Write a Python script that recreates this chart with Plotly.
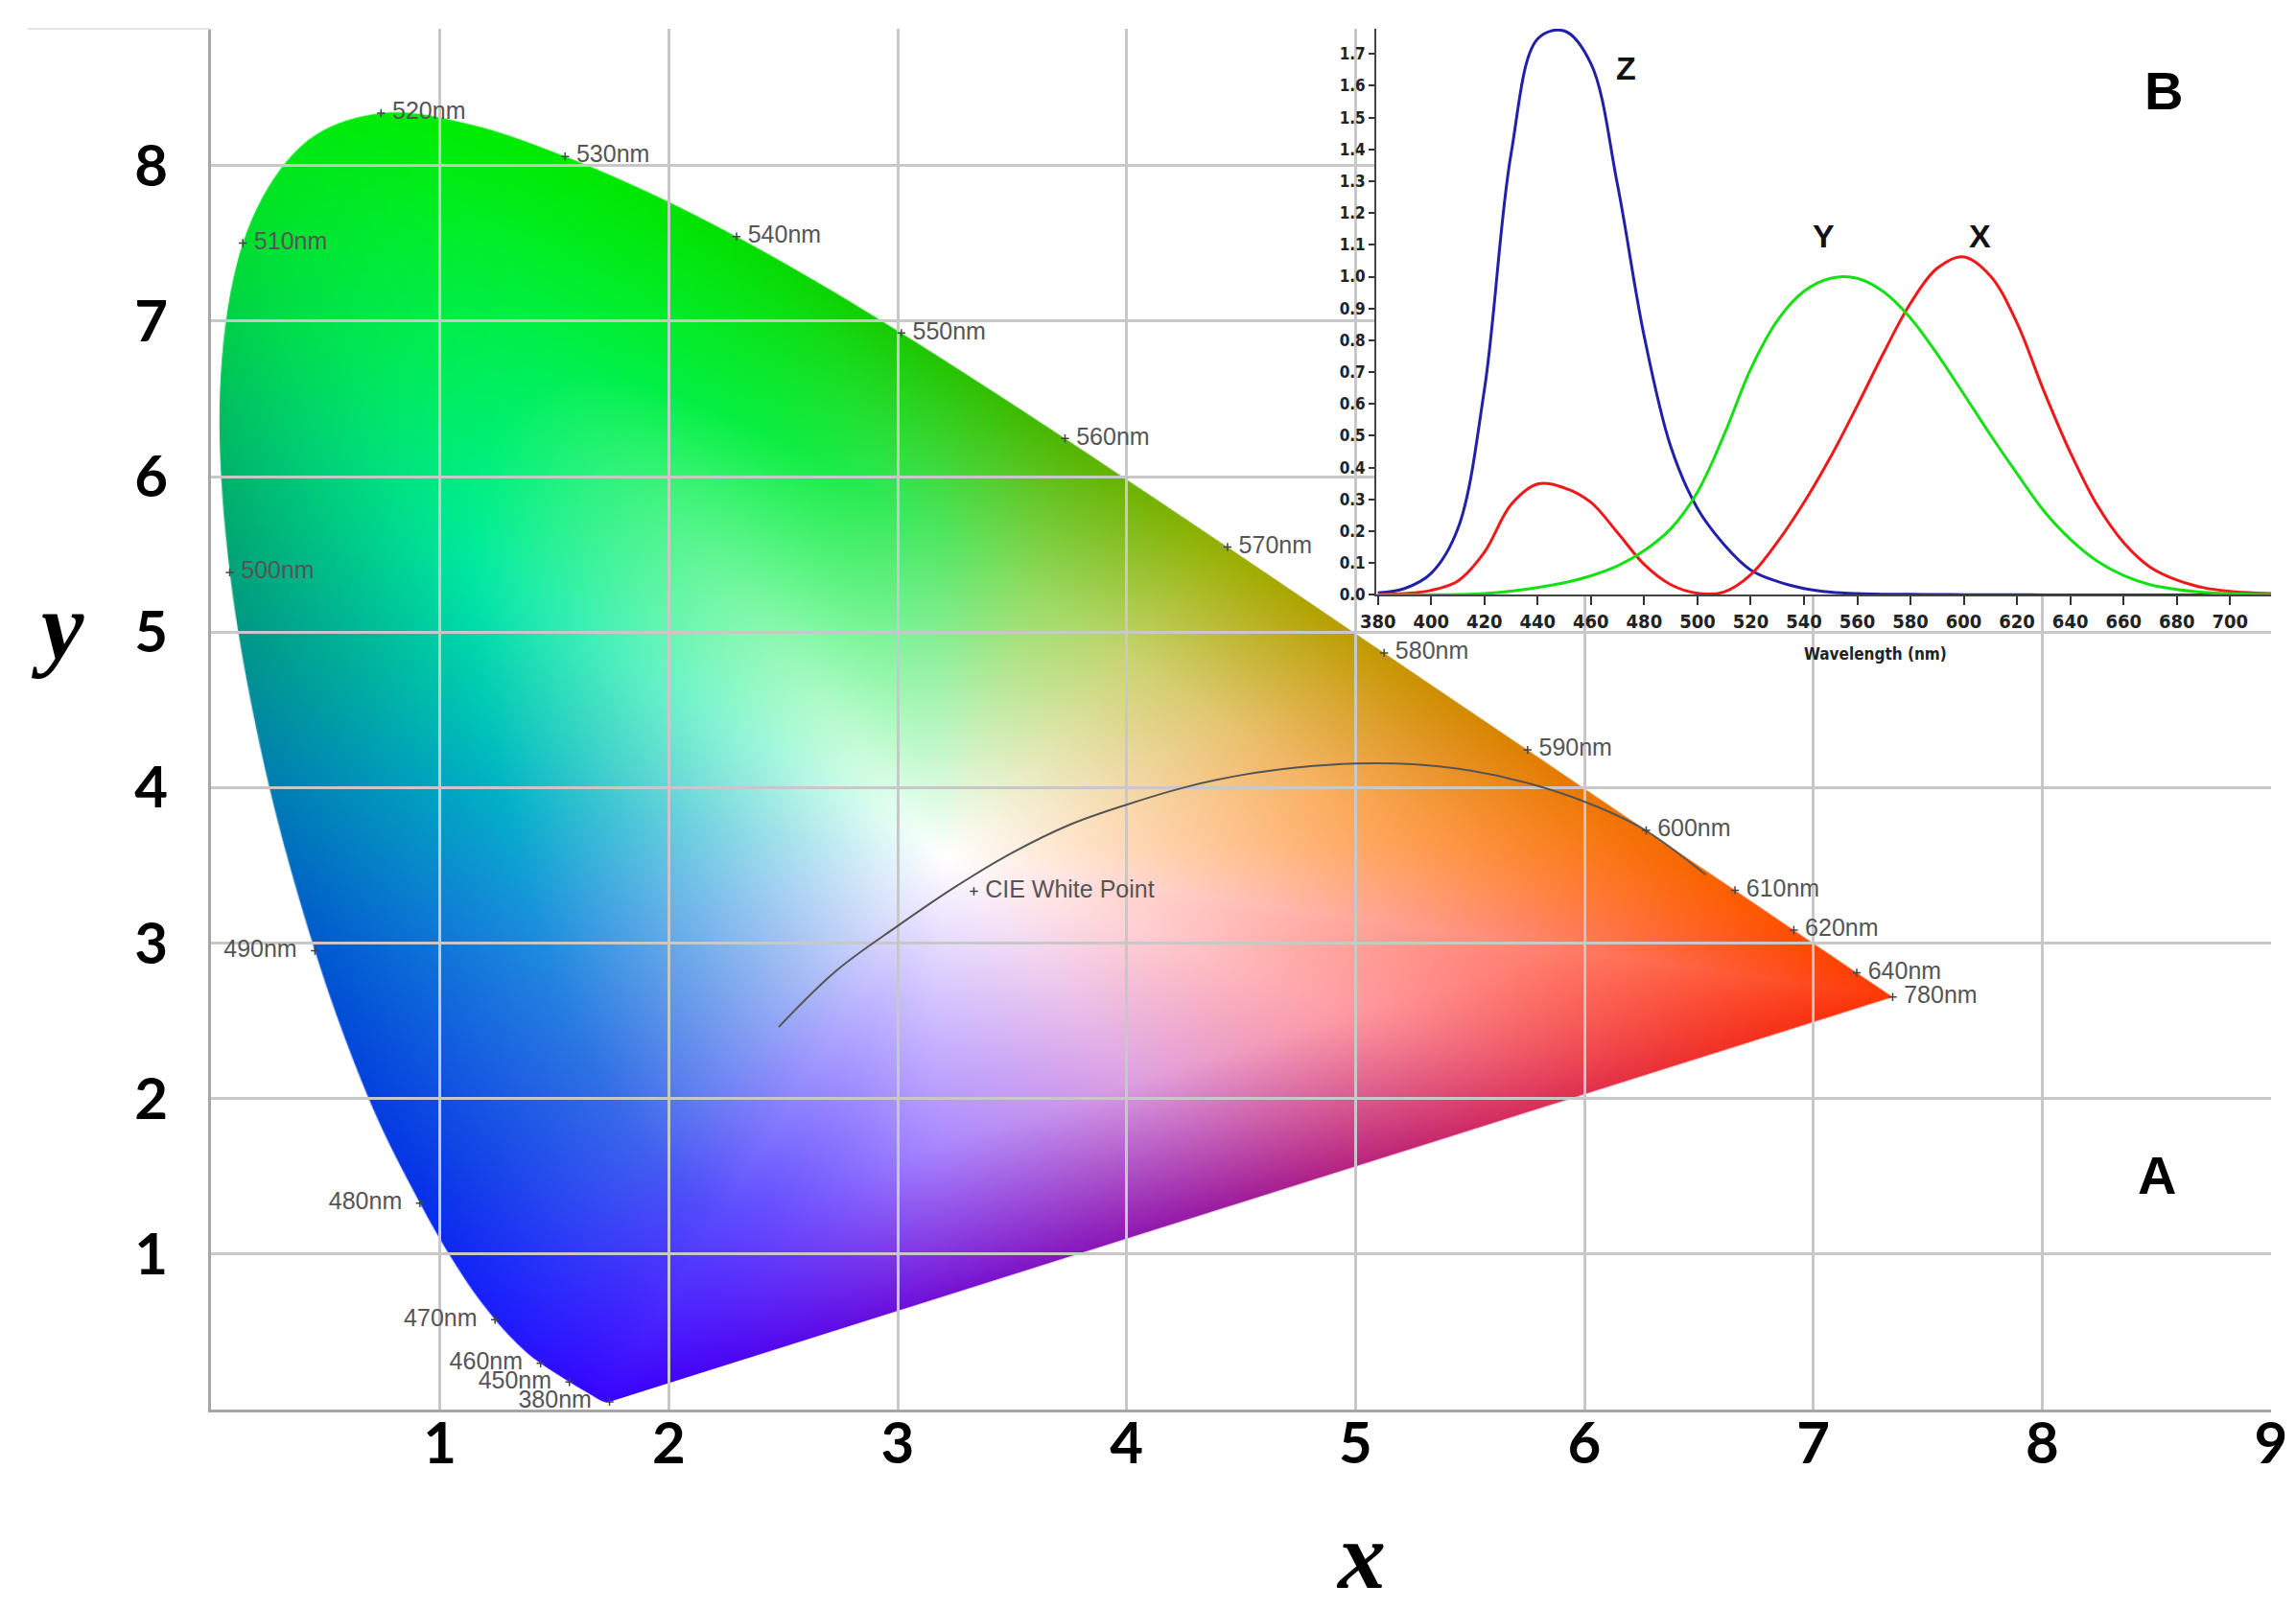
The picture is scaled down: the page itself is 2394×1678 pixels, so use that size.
import base64
import struct
import zlib

import numpy as np
import plotly.graph_objects as go

# ---- chromaticity diagram (A), axis units = 10 x CIE xy ----
locus_nm = [380, 400, 420, 430, 440, 450, 460, 465, 470, 475, 480, 485, 490, 495,
            500, 505, 510, 515, 520, 525, 530, 535, 540, 545, 550, 555, 560, 565,
            570, 575, 580, 585, 590, 595, 600, 605, 610, 620, 630, 640, 660, 780]
locus_x = [1.741, 1.733, 1.714, 1.689, 1.644, 1.566, 1.440, 1.355, 1.241, 1.096, 0.913,
           0.687, 0.454, 0.235, 0.082, 0.039, 0.139, 0.389, 0.743, 1.142, 1.547, 1.929,
           2.296, 2.658, 3.016, 3.373, 3.731, 4.087, 4.441, 4.788, 5.125, 5.448, 5.752,
           6.029, 6.270, 6.482, 6.658, 6.915, 7.079, 7.190, 7.300, 7.347]
locus_y = [0.050, 0.048, 0.051, 0.069, 0.109, 0.177, 0.297, 0.399, 0.578, 0.868, 1.327,
           2.007, 2.950, 4.127, 5.384, 6.548, 7.502, 8.120, 8.338, 8.262, 8.059, 7.816,
           7.543, 7.243, 6.923, 6.589, 6.245, 5.896, 5.547, 5.202, 4.866, 4.544, 4.242,
           3.965, 3.725, 3.514, 3.340, 3.083, 2.920, 2.809, 2.700, 2.653]

labels_right = [520, 530, 540, 550, 560, 570, 580, 590, 600, 610, 620, 640, 780, 510, 500]
labels_left = [490, 480, 470, 460, 450, 380]

white_x = 3.333
white_y = 3.333

planck_x = [2.48, 2.73, 3.00, 3.25, 3.50, 3.75, 4.00, 4.25, 4.50, 4.75, 5.00, 5.25,
            5.50, 5.75, 6.00, 6.25, 6.53]
planck_y = [2.46, 2.82, 3.11, 3.36, 3.58, 3.76, 3.89, 4.00, 4.08, 4.13, 4.155, 4.15,
            4.11, 4.03, 3.91, 3.74, 3.44]

# ---- colour matching functions (B) ----
wl = list(range(380, 730, 10))
cmf_x = [0.0014, 0.0042, 0.0143, 0.0435, 0.1344, 0.2839, 0.3483, 0.3362, 0.2908, 0.1954,
         0.0956, 0.0320, 0.0049, 0.0093, 0.0633, 0.1655, 0.2904, 0.4334, 0.5945, 0.7621,
         0.9163, 1.0263, 1.0622, 1.0026, 0.8545, 0.6424, 0.4479, 0.2835, 0.1649, 0.0874,
         0.0468, 0.0227, 0.0114, 0.0058, 0.0029]
cmf_y = [0.0000, 0.0001, 0.0004, 0.0012, 0.0040, 0.0116, 0.0230, 0.0380, 0.0600, 0.0910,
         0.1390, 0.2080, 0.3230, 0.5030, 0.7100, 0.8620, 0.9540, 0.9950, 0.9950, 0.9520,
         0.8700, 0.7570, 0.6310, 0.5030, 0.3810, 0.2650, 0.1750, 0.1070, 0.0610, 0.0320,
         0.0170, 0.0082, 0.0041, 0.0021, 0.0010]
cmf_z = [0.0065, 0.0201, 0.0679, 0.2074, 0.6456, 1.3856, 1.7471, 1.7721, 1.6692, 1.2876,
         0.8130, 0.4652, 0.2720, 0.1582, 0.0783, 0.0422, 0.0203, 0.0088, 0.0039, 0.0021,
         0.0017, 0.0011, 0.0008, 0.0003, 0.0002, 0.0, 0.0, 0.0, 0.0, 0.0,
         0.0, 0.0, 0.0, 0.0, 0.0]

# gradient look: colour at the rim and part way in, per direction
grad_centre = (3.2, 3.55)
grad_inner_t = 0.65
grad_nm = [380, 460, 470, 480, 490, 495, 500, 505, 510, 520, 530, 540, 550, 560,
           570, 580, 590, 600, 620, 780]
grad_edge = ['#3a00ff', '#2a10ff', '#1a1cff', '#0530e8', '#0058d0', '#0080b0', '#00a078',
             '#00c060', '#00e030', '#00ee00', '#00ea00', '#00e000', '#18c800', '#50b400',
             '#98b000', '#c49800', '#dc8000', '#f47000', '#ff5400', '#ff3000']
grad_inner = ['#5a48ff', '#4c50f6', '#4060f0', '#3070e4', '#1a92dc', '#00b0c8', '#00d0b0',
              '#00eca0', '#00f078', '#00f050', '#00f040', '#10ec40', '#40e860', '#90dc60',
              '#c8d470', '#e6c470', '#f8b060', '#ffa050', '#ff9060', '#ff7868']
# purple line, fraction from 780nm back to 380nm
purple_f = [0.24, 0.50, 0.76]
purple_edge = ['#e03050', '#a01c98', '#7010d8']
purple_inner = ['#ff9aa0', '#e0a0e0', '#a888ff']


def hex_rgb(h):
    return [int(h[i:i + 2], 16) for i in (1, 3, 5)]


def catmull(xs, ys, n=10):
    p = np.column_stack([xs, ys]).astype(float)
    p = np.vstack([p[0], p, p[-1]])
    out = []
    for i in range(1, len(p) - 2):
        p0, p1, p2, p3 = p[i - 1], p[i], p[i + 1], p[i + 2]
        for s in np.linspace(0, 1, n, endpoint=False):
            out.append(0.5 * (2 * p1 + (p2 - p0) * s + (2 * p0 - 5 * p1 + 4 * p2 - p3) * s * s
                              + (3 * p1 - p0 - 3 * p2 + p3) * s ** 3))
    out.append(p[-2])
    return np.array(out)


def png_uri(rgba):
    h, w, _ = rgba.shape
    raw = rgba.reshape(h, w * 4).astype(np.int16)
    sub = raw.copy()
    sub[:, 4:] = raw[:, 4:] - raw[:, :-4]
    sub = (sub % 256).astype(np.uint8)
    rows = np.hstack([np.ones((h, 1), np.uint8), sub])

    def chunk(tag, data):
        c = struct.pack('>I', len(data)) + tag + data
        return c + struct.pack('>I', zlib.crc32(tag + data) & 0xffffffff)

    png = (b'\x89PNG\r\n\x1a\n'
           + chunk(b'IHDR', struct.pack('>IIBBBBB', w, h, 8, 6, 0, 0, 0))
           + chunk(b'IDAT', zlib.compress(rows.tobytes(), 6))
           + chunk(b'IEND', b''))
    return 'data:image/png;base64,' + base64.b64encode(png).decode()


# Build the coloured horseshoe as an image
loc = {nm: (x, y) for nm, x, y in zip(locus_nm, locus_x, locus_y)}
curve = catmull(locus_x, locus_y)
poly = np.vstack([curve, curve[:1]])
cx, cy = grad_centre

ang = np.linspace(-np.pi, np.pi, 7201)
dxr, dyr = np.cos(ang)[:, None], np.sin(ang)[:, None]
wx, wy = poly[:-1, 0][None, :] - cx, poly[:-1, 1][None, :] - cy
ex, ey = np.diff(poly[:, 0])[None, :], np.diff(poly[:, 1])[None, :]
den = dxr * ey - dyr * ex
with np.errstate(divide='ignore', invalid='ignore'):
    s = (wx * ey - wy * ex) / den
    u = (wx * dyr - wy * dxr) / den
ok = (np.abs(den) > 1e-12) & (u >= -1e-9) & (u <= 1 + 1e-9) & (s > 0)
rb = np.where(ok, s, np.inf).min(axis=1)

ax_pts = [loc[nm] for nm in grad_nm]
p380, p780 = np.array(loc[380]), np.array(loc[780])
ax_pts += [tuple(p780 + f * (p380 - p780)) for f in purple_f]
edge_cols = np.array([hex_rgb(c) for c in grad_edge + purple_edge], float)
inner_cols = np.array([hex_rgb(c) for c in grad_inner + purple_inner], float)
a_ang = np.array([np.arctan2(py - cy, px - cx) for px, py in ax_pts])
order = np.argsort(a_ang)
a_ang = a_ang[order]
edge_cols = edge_cols[order]
inner_cols = inner_cols[order]


def ring(cols, sigma=0.05):
    # colour round the centre, softened so the wedges don't show
    base = ang[:-1]
    n = len(base)
    k = np.arange(n)
    d = np.minimum(k, n - k) * (2 * np.pi / n)
    kern = np.exp(-0.5 * (d / sigma) ** 2)
    kern /= kern.sum()
    fk = np.fft.fft(kern)
    out = []
    for c in range(3):
        v = np.interp(base, a_ang, cols[:, c], period=2 * np.pi)
        v = np.real(np.fft.ifft(np.fft.fft(v) * fk))
        out.append(np.append(v, v[0]))
    return np.stack(out, -1)


edge_ring = ring(edge_cols)
inner_ring = ring(inner_cols)

img_w, img_h = 1600, 1380
x_max, y_max = 7.5, 8.5
gx = (np.arange(img_w) + 0.5) * x_max / img_w
gy = y_max - (np.arange(img_h) + 0.5) * y_max / img_h
GX, GY = np.meshgrid(gx, gy)
DX, DY = GX - cx, GY - cy
phi = np.arctan2(DY, DX)
rr = np.hypot(DX, DY)
rb_pix = np.interp(phi, ang, rb)
tt = rr / rb_pix
alpha = np.clip((rb_pix - rr) / 0.006 + 0.5, 0, 1)

edge = np.stack([np.interp(phi, ang, edge_ring[:, c]) for c in range(3)], -1)
inner = np.stack([np.interp(phi, ang, inner_ring[:, c]) for c in range(3)], -1)
f1 = np.clip(tt / grad_inner_t, 0, 1)[..., None]
f2 = np.clip((tt - grad_inner_t) / (1 - grad_inner_t), 0, 1)[..., None]
col = 255 * (1 - f1) + inner * f1
col = col * (1 - f2) + edge * f2
rgba = np.concatenate([col, (alpha * 255)[..., None]], -1)
rgba = np.clip(np.round(rgba), 0, 255).astype(np.uint8)
horseshoe = png_uri(rgba)

fig = go.Figure()

# Planckian locus
fig.add_trace(go.Scatter(x=planck_x, y=planck_y, mode='lines',
                         line=dict(color='#555555', width=2, shape='spline'),
                         hoverinfo='skip', showlegend=False))

label_font = dict(family='Liberation Sans', size=25, color='#555555')
cross = dict(symbol='cross-thin', size=6, line=dict(width=1.5, color='#444444'))
fig.add_trace(go.Scatter(
    x=[loc[nm][0] for nm in labels_right], y=[loc[nm][1] for nm in labels_right],
    mode='markers+text', text=['\u00a0%dnm' % nm for nm in labels_right],
    textposition='middle right', textfont=label_font, marker=cross, showlegend=False))
fig.add_trace(go.Scatter(
    x=[loc[nm][0] for nm in labels_left], y=[loc[nm][1] for nm in labels_left],
    mode='markers+text', text=['%dnm\u00a0\u00a0' % nm for nm in labels_left],
    textposition='middle left', textfont=label_font, marker=cross, showlegend=False))
fig.add_trace(go.Scatter(
    x=[white_x], y=[white_y], mode='markers+text', text=['\u00a0CIE White Point'],
    textposition='middle right', textfont=label_font, marker=cross, showlegend=False))

# Inset B: colour matching functions
fig.add_trace(go.Scatter(x=wl, y=cmf_z, mode='lines', line=dict(color='#2020aa', width=3, shape='spline'),
                         xaxis='x2', yaxis='y2', showlegend=False))
fig.add_trace(go.Scatter(x=wl, y=cmf_x, mode='lines', line=dict(color='#f01818', width=3, shape='spline'),
                         xaxis='x2', yaxis='y2', showlegend=False))
fig.add_trace(go.Scatter(x=wl, y=cmf_y, mode='lines', line=dict(color='#14e014', width=3, shape='spline'),
                         xaxis='x2', yaxis='y2', showlegend=False))

big_tick = dict(family='Lato, Open Sans, sans-serif', size=60, color='black', weight=700)
narrow = 'Liberation Sans Narrow, DejaVu Sans Condensed, Liberation Sans'
x2_tick = dict(family=narrow, size=20, color='#222222', weight=700)
y2_tick = dict(family=narrow, size=17, color='#222222', weight=700)

fig.update_layout(
    width=2394, height=1678,
    margin=dict(l=212, r=34, t=22, b=216),
    paper_bgcolor='white', plot_bgcolor='white',
    xaxis=dict(domain=[0, 1], range=[0, 9], tickvals=list(range(1, 10)),
               showgrid=True, gridcolor='#c8c8c8', gridwidth=2.5,
               showline=True, linecolor='#a6a6a6', linewidth=3, zeroline=False,
               ticks='', ticklabelstandoff=-19, tickfont=big_tick, fixedrange=True),
    yaxis=dict(domain=[0, 1], range=[0, 8.88], tickvals=list(range(1, 9)),
               showgrid=True, gridcolor='#c8c8c8', gridwidth=2.5,
               showline=True, linecolor='#a6a6a6', linewidth=3, zeroline=False,
               ticks='', ticklabelstandoff=30, tickfont=big_tick, fixedrange=True),
    xaxis2=dict(domain=[0.5656, 1], anchor='y2', range=[379.35, 715.4],
                tickvals=list(range(380, 720, 20)), showgrid=False, zeroline=False,
                showline=True, linecolor='#444444', linewidth=1.5,
                ticks='outside', ticklen=9, tickwidth=1.5, tickcolor='#333333',
                tickfont=x2_tick),
    yaxis2=dict(domain=[0.590, 1], anchor='x2', range=[0, 1.779],
                tickvals=[i / 10 for i in range(18)],
                ticktext=['%.1f' % (i / 10) for i in range(18)],
                showgrid=False, zeroline=False,
                showline=True, linecolor='#444444', linewidth=1.5,
                ticks='outside', ticklen=6, tickwidth=1.5, tickcolor='#333333',
                tickfont=y2_tick),
    images=[dict(source=horseshoe, xref='x', yref='y', x=0, y=y_max,
                 sizex=x_max, sizey=y_max, sizing='stretch',
                 xanchor='left', yanchor='top', layer='below')],
    shapes=[dict(type='line', xref='paper', yref='paper', x0=-0.089, x1=0, y0=1, y1=1,
                 line=dict(color='#e4e4e4', width=2))],
)

letter = dict(family='Liberation Sans', size=34, color='#111111', weight=700)
fig.add_annotation(x=473.1, y=1.656, xref='x2', yref='y2', text='Z', showarrow=False, font=letter)
fig.add_annotation(x=547.4, y=1.129, xref='x2', yref='y2', text='Y', showarrow=False, font=letter)
fig.add_annotation(x=606.1, y=1.129, xref='x2', yref='y2', text='X', showarrow=False, font=letter)
fig.add_annotation(x=566.8, y=0.547, xref='x2', yref='paper', text='Wavelength (nm)',
                   showarrow=False, font=dict(family=narrow, size=17, color='#222222', weight=700))

panel = dict(family='Liberation Sans', size=56, color='black', weight=700)
fig.add_annotation(x=8.53, y=8.48, xref='x', yref='y', text='B', showarrow=False, font=panel)
fig.add_annotation(x=8.50, y=1.51, xref='x', yref='y', text='A', showarrow=False, font=panel)

axis_title = dict(family='Liberation Serif', size=100, color='black', weight=700, style='italic')
fig.add_annotation(x=-0.0885, y=0.567, xref='paper', yref='paper', text='y', showarrow=False, font=axis_title)
fig.add_annotation(x=0.558, y=-0.146, xref='paper', yref='paper', text='x', showarrow=False, font=axis_title)

fig.write_html("out.html")
